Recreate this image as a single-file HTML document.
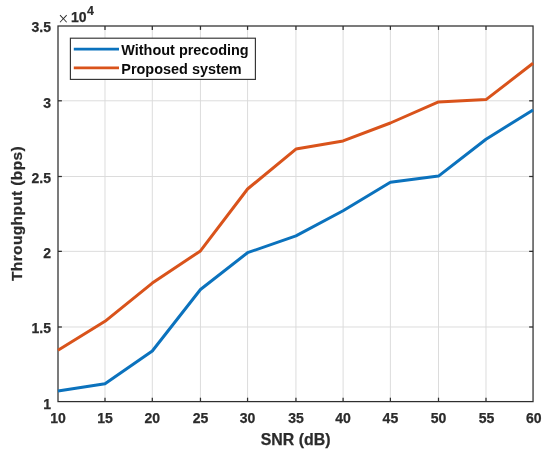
<!DOCTYPE html>
<html lang="en">
<head>
<meta charset="utf-8">
<title>Throughput vs SNR</title>
<style>
html,body{margin:0;padding:0;background:#fff;}
body{width:550px;height:456px;overflow:hidden;}
svg{display:block;}
text{font-family:"Liberation Sans",sans-serif;font-weight:bold;}
.tk{font-size:14px;fill:#2b2b2b;stroke:#2b2b2b;stroke-width:0.25px;}
.lb{font-size:15.9px;fill:#2b2b2b;stroke:#2b2b2b;stroke-width:0.25px;}
.lg{font-size:14.45px;fill:#0a0a0a;}
</style>
</head>
<body>
<svg width="550" height="456" viewBox="0 0 550 456">
<rect x="0" y="0" width="550" height="456" fill="#ffffff"/>
<g stroke="#dadada" stroke-width="0.95" fill="none">
<line x1="105.00" y1="26.00" x2="105.00" y2="401.60"/>
<line x1="152.30" y1="26.00" x2="152.30" y2="401.60"/>
<line x1="200.46" y1="26.00" x2="200.46" y2="401.60"/>
<line x1="247.56" y1="26.00" x2="247.56" y2="401.60"/>
<line x1="295.95" y1="26.00" x2="295.95" y2="401.60"/>
<line x1="343.10" y1="26.00" x2="343.10" y2="401.60"/>
<line x1="390.40" y1="26.00" x2="390.40" y2="401.60"/>
<line x1="438.50" y1="26.00" x2="438.50" y2="401.60"/>
<line x1="486.00" y1="26.00" x2="486.00" y2="401.60"/>
<line x1="58.00" y1="100.80" x2="533.05" y2="100.80"/>
<line x1="58.00" y1="176.50" x2="533.05" y2="176.50"/>
<line x1="58.00" y1="251.35" x2="533.05" y2="251.35"/>
<line x1="58.00" y1="327.00" x2="533.05" y2="327.00"/>
</g>
<g stroke="#2e2e2e" stroke-width="1.25" fill="none">
<rect x="58.00" y="26.00" width="475.05" height="375.60"/>
<line x1="105.00" y1="401.60" x2="105.00" y2="397.70"/>
<line x1="105.00" y1="26.00" x2="105.00" y2="29.90"/>
<line x1="152.30" y1="401.60" x2="152.30" y2="397.70"/>
<line x1="152.30" y1="26.00" x2="152.30" y2="29.90"/>
<line x1="200.46" y1="401.60" x2="200.46" y2="397.70"/>
<line x1="200.46" y1="26.00" x2="200.46" y2="29.90"/>
<line x1="247.56" y1="401.60" x2="247.56" y2="397.70"/>
<line x1="247.56" y1="26.00" x2="247.56" y2="29.90"/>
<line x1="295.95" y1="401.60" x2="295.95" y2="397.70"/>
<line x1="295.95" y1="26.00" x2="295.95" y2="29.90"/>
<line x1="343.10" y1="401.60" x2="343.10" y2="397.70"/>
<line x1="343.10" y1="26.00" x2="343.10" y2="29.90"/>
<line x1="390.40" y1="401.60" x2="390.40" y2="397.70"/>
<line x1="390.40" y1="26.00" x2="390.40" y2="29.90"/>
<line x1="438.50" y1="401.60" x2="438.50" y2="397.70"/>
<line x1="438.50" y1="26.00" x2="438.50" y2="29.90"/>
<line x1="486.00" y1="401.60" x2="486.00" y2="397.70"/>
<line x1="486.00" y1="26.00" x2="486.00" y2="29.90"/>
<line x1="58.00" y1="100.80" x2="61.90" y2="100.80"/>
<line x1="533.05" y1="100.80" x2="529.15" y2="100.80"/>
<line x1="58.00" y1="176.50" x2="61.90" y2="176.50"/>
<line x1="533.05" y1="176.50" x2="529.15" y2="176.50"/>
<line x1="58.00" y1="251.35" x2="61.90" y2="251.35"/>
<line x1="533.05" y1="251.35" x2="529.15" y2="251.35"/>
<line x1="58.00" y1="327.00" x2="61.90" y2="327.00"/>
<line x1="533.05" y1="327.00" x2="529.15" y2="327.00"/>
</g>
<polyline points="58.00,391.00 105.00,383.70 152.30,351.00 200.46,289.50 247.56,252.70 295.95,235.90 343.10,210.70 390.40,182.30 438.50,176.10 486.00,139.30 533.05,109.90" fill="none" stroke="#0b72bd" stroke-width="3" stroke-linejoin="round" stroke-linecap="butt"/>
<polyline points="58.00,350.20 105.00,321.30 152.30,283.10 200.46,250.90 247.56,189.00 295.95,149.10 343.10,140.90 390.40,123.00 438.50,101.90 486.00,99.60 533.05,63.20" fill="none" stroke="#d9531b" stroke-width="3" stroke-linejoin="round" stroke-linecap="butt"/>
<g class="tk" text-anchor="middle">
<text x="58.00" y="423">10</text>
<text x="105.00" y="423">15</text>
<text x="152.30" y="423">20</text>
<text x="200.46" y="423">25</text>
<text x="247.56" y="423">30</text>
<text x="295.95" y="423">35</text>
<text x="343.10" y="423">40</text>
<text x="390.40" y="423">45</text>
<text x="438.50" y="423">50</text>
<text x="486.50" y="423">55</text>
<text x="533.85" y="423">60</text>
</g>
<g class="tk" text-anchor="end">
<text x="51" y="32.00">3.5</text>
<text x="51" y="107.70">3</text>
<text x="51" y="182.80">2.5</text>
<text x="51" y="258.25">2</text>
<text x="51" y="333.00">1.5</text>
<text x="51" y="408.70">1</text>
</g>
<text x="58.2" y="25.1" style="font-family:'Liberation Serif',serif;font-weight:normal;font-size:18px;fill:#2b2b2b">×</text>
<text class="tk" x="70.9" y="21.75">10</text>
<text x="87" y="15.4" style="font-size:12.4px;fill:#2b2b2b;stroke:#2b2b2b;stroke-width:0.2px">4</text>
<text class="lb" text-anchor="middle" x="295.6" y="444.7">SNR (dB)</text>
<text class="lb" text-anchor="middle" style="letter-spacing:0.37px;font-size:15.5px" transform="translate(22.2 213.5) rotate(-90)">Throughput (bps)</text>
<rect x="70.4" y="38.2" width="185" height="41.2" fill="#ffffff" stroke="#333333" stroke-width="1.15"/>
<line x1="73.8" y1="49.1" x2="119" y2="49.1" stroke="#0b72bd" stroke-width="2.9"/>
<line x1="73.8" y1="67.9" x2="119" y2="67.9" stroke="#d9531b" stroke-width="2.9"/>
<text class="lg" x="121.3" y="55.2">Without precoding</text>
<text class="lg" x="121.3" y="74.2">Proposed system</text>
</svg>
</body>
</html>
